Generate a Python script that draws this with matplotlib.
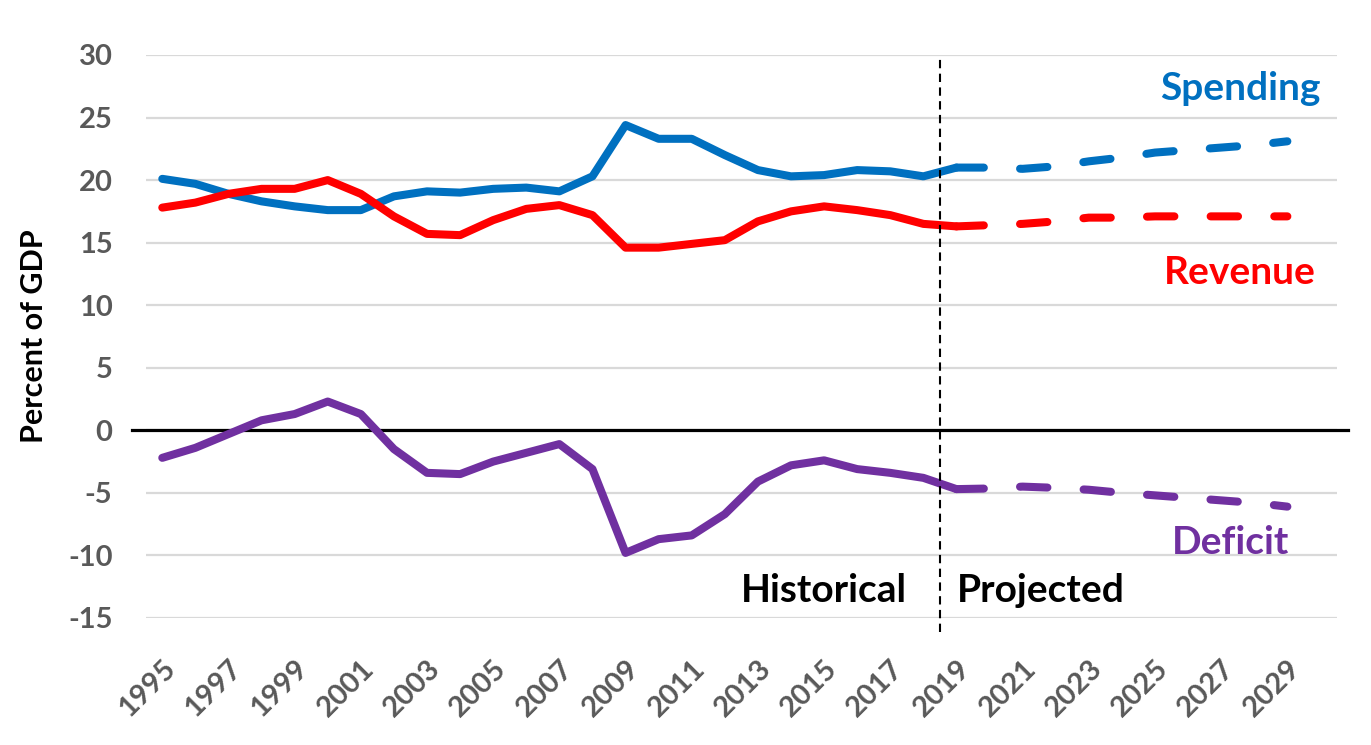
import matplotlib
matplotlib.use("Agg")
import matplotlib.pyplot as plt

plt.rcParams['font.family'] = ['Lato', 'DejaVu Sans']
plt.rcParams['font.weight'] = 'bold'
plt.rcParams['axes.unicode_minus'] = False

hist_years = list(range(1995, 2020))
hist_spending = [20.1, 19.7, 18.9, 18.3, 17.9, 17.6, 17.6, 18.7, 19.1, 19.0, 19.3, 19.4, 19.1, 20.3,
                 24.4, 23.3, 23.3, 22.0, 20.8, 20.3, 20.4, 20.8, 20.7, 20.3, 21.0]
hist_revenue = [17.8, 18.2, 18.9, 19.3, 19.3, 20.0, 18.9, 17.1, 15.7, 15.6, 16.8, 17.7, 18.0, 17.2,
                14.6, 14.6, 14.9, 15.2, 16.7, 17.5, 17.9, 17.6, 17.2, 16.5, 16.3]
hist_deficit = [-2.2, -1.4, -0.3, 0.8, 1.3, 2.3, 1.3, -1.5, -3.4, -3.5, -2.5, -1.8, -1.1, -3.1,
                -9.8, -8.7, -8.4, -6.7, -4.1, -2.8, -2.4, -3.1, -3.4, -3.8, -4.7]

proj_years = list(range(2019, 2030))
proj_spending = [21.0, 21.0, 20.9, 21.1, 21.5, 21.8, 22.2, 22.4, 22.6, 22.8, 23.1]
proj_revenue = [16.3, 16.4, 16.5, 16.7, 17.0, 17.0, 17.1, 17.1, 17.1, 17.1, 17.1]
proj_deficit = [-4.7, -4.65, -4.5, -4.6, -4.75, -5.0, -5.2, -5.4, -5.6, -5.8, -6.1]

tick_years = list(range(1995, 2030, 2))
y_ticks = list(range(-15, 31, 5))

blue, red, purple = '#0070C0', '#FF0000', '#7030A0'
tick_gray = '#595959'

fig = plt.figure(figsize=(13.71, 7.45), dpi=100)
ax = fig.add_axes([0.1063, 0.1705, 0.8689, 0.7557])

lw = 5.8
for ys, yp, c in [(hist_spending, proj_spending, blue),
                  (hist_revenue, proj_revenue, red),
                  (hist_deficit, proj_deficit, purple)]:
    ax.plot(hist_years, ys, color=c, lw=lw, solid_capstyle='round', solid_joinstyle='round', zorder=4)
    ax.plot(proj_years, yp, color=c, lw=lw, linestyle=(0, (3.4, 4.5)),
            dash_capstyle='round', zorder=4)

ax.set_xlim(1994.5, 2030.5)
ax.set_ylim(-15, 30)
ax.set_yticks(y_ticks)
ax.set_xticks(tick_years)
ax.set_xticklabels([str(y) for y in tick_years], rotation=45, ha='right',
                   rotation_mode='anchor', fontsize=21, color=tick_gray, fontweight='bold')
ax.tick_params(axis='x', length=0, pad=27)
ax.tick_params(axis='y', length=0, pad=24, labelsize=21, labelcolor=tick_gray)
for lab in ax.get_yticklabels():
    lab.set_fontweight('bold')

ax.grid(axis='y', color='#D9D9D9', lw=1.6, zorder=0)
ax.set_axisbelow(True)
for s in ax.spines.values():
    s.set_visible(False)

ax.axhline(0, xmin=-0.0115, xmax=1.0092, color='black', lw=2.3, clip_on=False, zorder=3)
ax.axvline(2018.5, ymin=-0.025, ymax=1.0, color='black', lw=1.5, linestyle=(0, (4, 2.6)),
           clip_on=False, zorder=5)

ax.set_ylabel('Percent of GDP', fontsize=22, fontweight='bold', color='black', labelpad=14)

ax.text(2030.0, 27.3, 'Spending', color=blue, fontsize=28, fontweight='bold', ha='right', va='center')
ax.text(2029.85, 12.6, 'Revenue', color=red, fontsize=28, fontweight='bold', ha='right', va='center')
ax.text(2029.05, -9.0, 'Deficit', color=purple, fontsize=28, fontweight='bold', ha='right', va='center')
ax.text(2017.5, -12.8, 'Historical', color='black', fontsize=28, fontweight='bold', ha='right', va='center')
ax.text(2019.0, -12.8, 'Projected', color='black', fontsize=28, fontweight='bold', ha='left', va='center')

fig.savefig('out.png', dpi=100)
